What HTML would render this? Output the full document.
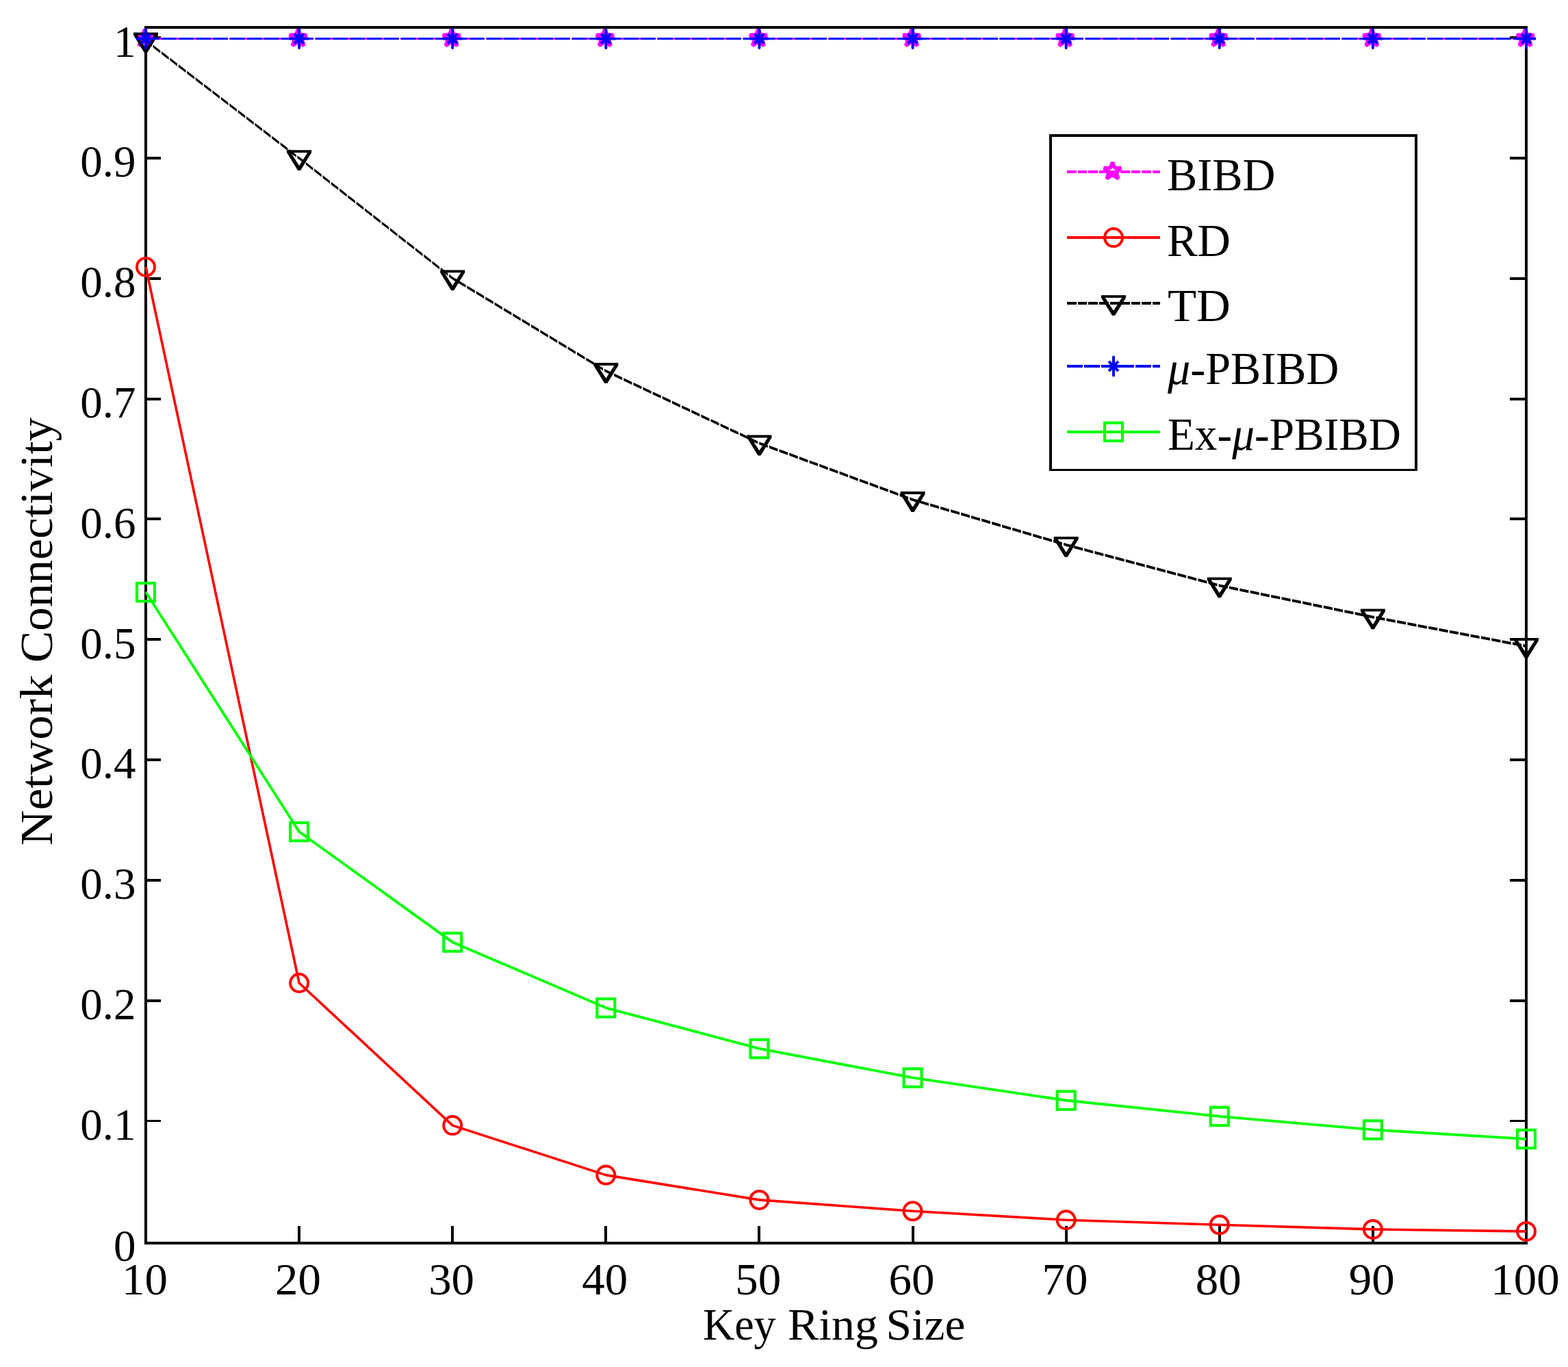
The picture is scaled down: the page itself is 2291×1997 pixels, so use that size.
<!DOCTYPE html><html><head><meta charset="utf-8"><title>Network Connectivity vs Key Ring Size</title>
<style>html,body{margin:0;padding:0;background:#fff;overflow:hidden}svg{display:block}text{font-family:'Liberation Serif', 'DejaVu Serif', serif;fill:#000}</style></head><body>
<svg width="2291" height="1997" viewBox="0 0 2291 1997">
<rect width="2291" height="1997" fill="#fff"/>
<path d="M213,1637.48H235M2230,1637.48H2206M213,1461.66H235M2230,1461.66H2206M213,1285.84H235M2230,1285.84H2206M213,1110.02H235M2230,1110.02H2206M213,934.2H235M2230,934.2H2206M213,758.38H235M2230,758.38H2206M213,582.56H235M2230,582.56H2206M213,406.74H235M2230,406.74H2206M213,230.92H235M2230,230.92H2206M213,55.1H235M2230,55.1H2206M213,1816V1790.5M213,39.9V65.4M437.11,1816V1790.5M437.11,39.9V65.4M661.22,1816V1790.5M661.22,39.9V65.4M885.33,1816V1790.5M885.33,39.9V65.4M1109.44,1816V1790.5M1109.44,39.9V65.4M1333.56,1816V1790.5M1333.56,39.9V65.4M1557.67,1816V1790.5M1557.67,39.9V65.4M1781.78,1816V1790.5M1781.78,39.9V65.4M2005.89,1816V1790.5M2005.89,39.9V65.4M2230,1816V1790.5M2230,39.9V65.4" stroke="#000" stroke-width="3.9" fill="none" shape-rendering="crispEdges"/>
<rect x="213" y="39.9" width="2017" height="1776.1" fill="none" stroke="#000" stroke-width="3.9" shape-rendering="crispEdges"/>
<path d="M213,56.5L437.11,56.5L661.22,56.5L885.33,56.5L1109.44,56.5L1333.56,56.5L1557.67,56.5L1781.78,56.5L2005.89,56.5L2230,56.5" stroke="#ff00ff" stroke-width="3.3" fill="none" shape-rendering="crispEdges" stroke-dasharray="13.33 2.3" stroke-dashoffset="3.27"/>
<path d="M211.5,42.9L214.71,50.78L223.96,51.15L216.7,56.89L219.91,66.77L211.5,60.66L203.09,66.77L206.3,56.89L199.04,51.15L208.29,50.78Z" fill="none" stroke="#ff00ff" stroke-width="5.4" stroke-linejoin="bevel"/>
<path d="M435.61,42.9L438.82,50.78L448.07,51.15L440.81,56.89L444.02,66.77L435.61,60.66L427.21,66.77L430.42,56.89L423.15,51.15L432.4,50.78Z" fill="none" stroke="#ff00ff" stroke-width="5.4" stroke-linejoin="bevel"/>
<path d="M659.72,42.9L662.93,50.78L672.18,51.15L664.92,56.89L668.13,66.77L659.72,60.66L651.32,66.77L654.53,56.89L647.26,51.15L656.51,50.78Z" fill="none" stroke="#ff00ff" stroke-width="5.4" stroke-linejoin="bevel"/>
<path d="M883.83,42.9L887.04,50.78L896.29,51.15L889.03,56.89L892.24,66.77L883.83,60.66L875.43,66.77L878.64,56.89L871.37,51.15L880.62,50.78Z" fill="none" stroke="#ff00ff" stroke-width="5.4" stroke-linejoin="bevel"/>
<path d="M1107.94,42.9L1111.16,50.78L1120.4,51.15L1113.14,56.89L1116.35,66.77L1107.94,60.66L1099.54,66.77L1102.75,56.89L1095.49,51.15L1104.73,50.78Z" fill="none" stroke="#ff00ff" stroke-width="5.4" stroke-linejoin="bevel"/>
<path d="M1332.06,42.9L1335.27,50.78L1344.51,51.15L1337.25,56.89L1340.46,66.77L1332.06,60.66L1323.65,66.77L1326.86,56.89L1319.6,51.15L1328.84,50.78Z" fill="none" stroke="#ff00ff" stroke-width="5.4" stroke-linejoin="bevel"/>
<path d="M1556.17,42.9L1559.38,50.78L1568.63,51.15L1561.36,56.89L1564.57,66.77L1556.17,60.66L1547.76,66.77L1550.97,56.89L1543.71,51.15L1552.96,50.78Z" fill="none" stroke="#ff00ff" stroke-width="5.4" stroke-linejoin="bevel"/>
<path d="M1780.28,42.9L1783.49,50.78L1792.74,51.15L1785.47,56.89L1788.68,66.77L1780.28,60.66L1771.87,66.77L1775.08,56.89L1767.82,51.15L1777.07,50.78Z" fill="none" stroke="#ff00ff" stroke-width="5.4" stroke-linejoin="bevel"/>
<path d="M2004.39,42.9L2007.6,50.78L2016.85,51.15L2009.58,56.89L2012.79,66.77L2004.39,60.66L1995.98,66.77L1999.19,56.89L1991.93,51.15L2001.18,50.78Z" fill="none" stroke="#ff00ff" stroke-width="5.4" stroke-linejoin="bevel"/>
<path d="M2228.5,42.9L2231.71,50.78L2240.96,51.15L2233.7,56.89L2236.91,66.77L2228.5,60.66L2220.09,66.77L2223.3,56.89L2216.04,51.15L2225.29,50.78Z" fill="none" stroke="#ff00ff" stroke-width="5.4" stroke-linejoin="bevel"/>
<path d="M213,390L437.11,1436L661.22,1644.1L885.33,1716.6L1109.44,1752.9L1333.56,1769.3L1557.67,1782.2L1781.78,1789.3L2005.89,1795.9L2230,1798.9" stroke="#ff0000" stroke-width="3.6" fill="none" stroke-linejoin="round"/>
<circle cx="213" cy="390" r="13" fill="none" stroke="#ff0000" stroke-width="4"/>
<circle cx="437.11" cy="1436" r="13" fill="none" stroke="#ff0000" stroke-width="4"/>
<circle cx="661.22" cy="1644.1" r="13" fill="none" stroke="#ff0000" stroke-width="4"/>
<circle cx="885.33" cy="1716.6" r="13" fill="none" stroke="#ff0000" stroke-width="4"/>
<circle cx="1109.44" cy="1752.9" r="13" fill="none" stroke="#ff0000" stroke-width="4"/>
<circle cx="1333.56" cy="1769.3" r="13" fill="none" stroke="#ff0000" stroke-width="4"/>
<circle cx="1557.67" cy="1782.2" r="13" fill="none" stroke="#ff0000" stroke-width="4"/>
<circle cx="1781.78" cy="1789.3" r="13" fill="none" stroke="#ff0000" stroke-width="4"/>
<circle cx="2005.89" cy="1795.9" r="13" fill="none" stroke="#ff0000" stroke-width="4"/>
<circle cx="2230" cy="1798.9" r="13" fill="none" stroke="#ff0000" stroke-width="4"/>
<path d="M213,57.4L221.78,64.13L221.78,68.13L213,61.4ZM223.61,65.53L234.19,73.63L234.19,77.63L223.61,69.53ZM236.01,75.03L246.6,83.14L246.6,87.14L236.01,79.03ZM248.42,84.54L259,92.65L259,96.65L248.42,88.54ZM260.83,94.04L271.41,102.15L271.41,106.15L260.83,98.04ZM273.24,103.55L283.82,111.66L283.82,115.66L273.24,107.55ZM285.65,113.06L296.23,121.16L296.23,125.16L285.65,117.06ZM298.05,122.56L308.64,130.67L308.64,134.67L298.05,126.56ZM310.46,132.07L321.04,140.18L321.04,144.18L310.46,136.07ZM322.87,141.58L333.45,149.68L333.45,153.68L322.87,145.58ZM335.28,151.08L345.86,159.19L345.86,163.19L335.28,155.08ZM347.69,160.59L358.27,168.7L358.27,172.7L347.69,164.59ZM360.09,170.09L370.68,178.2L370.68,182.2L360.09,174.09ZM372.5,179.6L383.08,187.71L383.08,191.71L372.5,183.6ZM384.91,189.11L395.49,197.21L395.49,201.21L384.91,193.11ZM397.32,198.61L407.9,206.72L407.9,210.72L397.32,202.61ZM409.73,208.12L420.31,216.23L420.31,220.23L409.73,212.12ZM422.13,217.63L432.72,225.73L432.72,229.73L422.13,221.63ZM434.54,227.13L437.11,229.1L437.11,233.1L434.54,231.13ZM437.11,229.1L445.06,235.32L445.06,239.32L437.11,233.1ZM446.87,236.74L457.37,244.95L457.37,248.95L446.87,240.74ZM459.19,246.37L469.69,254.58L469.69,258.58L459.19,250.37ZM471.5,256L482,264.21L482,268.21L471.5,260ZM483.81,265.63L494.31,273.84L494.31,277.84L483.81,269.63ZM496.12,275.26L506.62,283.47L506.62,287.47L496.12,279.26ZM508.43,284.89L518.93,293.1L518.93,297.1L508.43,288.89ZM520.75,294.52L531.25,302.73L531.25,306.73L520.75,298.52ZM533.06,304.15L543.56,312.36L543.56,316.36L533.06,308.15ZM545.37,313.78L555.87,321.99L555.87,325.99L545.37,317.78ZM557.68,323.41L568.18,331.62L568.18,335.62L557.68,327.41ZM569.99,333.04L580.49,341.25L580.49,345.25L569.99,337.04ZM582.31,342.67L592.81,350.88L592.81,354.88L582.31,346.67ZM594.62,352.3L605.12,360.51L605.12,364.51L594.62,356.3ZM606.93,361.93L617.43,370.14L617.43,374.14L606.93,365.93ZM619.24,371.56L629.74,379.78L629.74,383.78L619.24,375.56ZM631.55,381.19L642.05,389.41L642.05,393.41L631.55,385.19ZM643.87,390.82L654.36,399.04L654.36,403.04L643.87,394.82ZM656.18,400.45L661.22,404.4L661.22,408.4L656.18,404.45ZM661.22,404.4L667.15,407.98L667.15,411.98L661.22,408.4ZM669.12,409.18L680.52,416.08L680.52,420.08L669.12,413.18ZM682.49,417.27L693.89,424.17L693.89,428.17L682.49,421.27ZM695.86,425.36L707.27,432.26L707.27,436.26L695.86,429.36ZM709.24,433.45L720.64,440.35L720.64,444.35L709.24,437.45ZM722.61,441.54L734.01,448.44L734.01,452.44L722.61,445.54ZM735.98,449.63L747.39,456.54L747.39,460.54L735.98,453.63ZM749.36,457.73L760.76,464.63L760.76,468.63L749.36,461.73ZM762.73,465.82L774.14,472.72L774.14,476.72L762.73,469.82ZM776.1,473.91L787.51,480.81L787.51,484.81L776.1,477.91ZM789.48,482L800.88,488.9L800.88,492.9L789.48,486ZM802.85,490.09L814.26,496.99L814.26,500.99L802.85,494.09ZM816.22,498.19L827.63,505.09L827.63,509.09L816.22,502.19ZM829.6,506.28L841,513.18L841,517.18L829.6,510.28ZM842.97,514.37L854.38,521.27L854.38,525.27L842.97,518.37ZM856.35,522.46L867.75,529.36L867.75,533.36L856.35,526.46ZM869.72,530.55L881.12,537.45L881.12,541.45L869.72,534.55ZM883.09,538.64L885.33,540L885.33,544L883.09,542.64ZM885.33,540L895.02,544.56L895.02,548.56L885.33,544ZM897.11,545.54L909.17,551.22L909.17,555.22L897.11,549.54ZM911.25,552.2L923.31,557.88L923.31,561.88L911.25,556.2ZM925.39,558.86L937.45,564.53L937.45,568.53L925.39,562.86ZM939.53,565.51L951.59,571.19L951.59,575.19L939.53,569.51ZM953.68,572.17L965.74,577.85L965.74,581.85L953.68,576.17ZM967.82,578.83L979.88,584.51L979.88,588.51L967.82,582.83ZM981.96,585.49L994.02,591.16L994.02,595.16L981.96,589.49ZM996.1,592.14L1008.16,597.82L1008.16,601.82L996.1,596.14ZM1010.24,598.8L1022.31,604.48L1022.31,608.48L1010.24,602.8ZM1024.39,605.46L1036.45,611.14L1036.45,615.14L1024.39,609.46ZM1038.53,612.12L1050.59,617.79L1050.59,621.79L1038.53,616.12ZM1052.67,618.77L1064.73,624.45L1064.73,628.45L1052.67,622.77ZM1066.81,625.43L1078.87,631.11L1078.87,635.11L1066.81,629.43ZM1080.96,632.09L1093.02,637.77L1093.02,641.77L1080.96,636.09ZM1095.1,638.75L1107.16,644.42L1107.16,648.42L1095.1,642.75ZM1109.24,645.4L1109.44,645.5L1109.44,649.5L1109.24,649.4ZM1109.44,645.5L1121.74,650.03L1121.74,654.03L1109.44,649.5ZM1123.9,650.82L1136.41,655.43L1136.41,659.43L1123.9,654.82ZM1138.57,656.22L1151.08,660.83L1151.08,664.83L1138.57,660.22ZM1153.24,661.62L1165.75,666.23L1165.75,670.23L1153.24,665.62ZM1167.91,667.02L1180.42,671.63L1180.42,675.63L1167.91,671.02ZM1182.58,672.42L1195.09,677.03L1195.09,681.03L1182.58,676.42ZM1197.25,677.82L1209.75,682.43L1209.75,686.43L1197.25,681.82ZM1211.91,683.22L1224.42,687.83L1224.42,691.83L1211.91,687.22ZM1226.58,688.62L1239.09,693.23L1239.09,697.23L1226.58,692.62ZM1241.25,694.02L1253.76,698.63L1253.76,702.63L1241.25,698.02ZM1255.92,699.42L1268.43,704.03L1268.43,708.03L1255.92,703.42ZM1270.59,704.82L1283.1,709.43L1283.1,713.43L1270.59,708.82ZM1285.26,710.22L1297.77,714.83L1297.77,718.83L1285.26,714.22ZM1299.93,715.62L1312.44,720.23L1312.44,724.23L1299.93,719.62ZM1314.59,721.02L1327.1,725.63L1327.1,729.63L1314.59,725.02ZM1329.26,726.42L1333.56,728L1333.56,732L1329.26,730.42ZM1333.56,728L1341.96,730.47L1341.96,734.47L1333.56,732ZM1344.16,731.12L1356.95,734.88L1356.95,738.88L1344.16,735.12ZM1359.16,735.53L1371.95,739.29L1371.95,743.29L1359.16,739.53ZM1374.16,739.94L1386.94,743.7L1386.94,747.7L1374.16,743.94ZM1389.15,744.35L1401.94,748.11L1401.94,752.11L1389.15,748.35ZM1404.15,748.76L1416.94,752.52L1416.94,756.52L1404.15,752.76ZM1419.14,753.17L1431.93,756.93L1431.93,760.93L1419.14,757.17ZM1434.14,757.58L1446.93,761.34L1446.93,765.34L1434.14,761.58ZM1449.14,761.99L1461.93,765.75L1461.93,769.75L1449.14,765.99ZM1464.13,766.4L1476.92,770.16L1476.92,774.16L1464.13,770.4ZM1479.13,770.81L1491.92,774.57L1491.92,778.57L1479.13,774.81ZM1494.12,775.22L1506.91,778.98L1506.91,782.98L1494.12,779.22ZM1509.12,779.63L1521.91,783.39L1521.91,787.39L1509.12,783.63ZM1524.12,784.03L1536.91,787.8L1536.91,791.8L1524.12,788.03ZM1539.11,788.44L1551.9,792.2L1551.9,796.2L1539.11,792.44ZM1554.11,792.85L1557.67,793.9L1557.67,797.9L1554.11,796.85ZM1557.67,793.9L1566.97,796.37L1566.97,800.37L1557.67,797.9ZM1569.19,796.96L1582.07,800.38L1582.07,804.38L1569.19,800.96ZM1584.3,800.97L1597.18,804.39L1597.18,808.39L1584.3,804.97ZM1599.41,804.98L1612.29,808.4L1612.29,812.4L1599.41,808.98ZM1614.51,808.99L1627.4,812.41L1627.4,816.41L1614.51,812.99ZM1629.62,813L1642.5,816.42L1642.5,820.42L1629.62,817ZM1644.73,817.01L1657.61,820.43L1657.61,824.43L1644.73,821.01ZM1659.84,821.03L1672.72,824.45L1672.72,828.45L1659.84,825.03ZM1674.94,825.04L1687.83,828.46L1687.83,832.46L1674.94,829.04ZM1690.05,829.05L1702.94,832.47L1702.94,836.47L1690.05,833.05ZM1705.16,833.06L1718.04,836.48L1718.04,840.48L1705.16,837.06ZM1720.27,837.07L1733.15,840.49L1733.15,844.49L1720.27,841.07ZM1735.37,841.08L1748.26,844.5L1748.26,848.5L1735.37,845.08ZM1750.48,845.09L1763.37,848.51L1763.37,852.51L1750.48,849.09ZM1765.59,849.1L1778.47,852.52L1778.47,856.52L1765.59,853.1ZM1780.7,853.11L1781.78,853.4L1781.78,857.4L1780.7,857.11ZM1781.78,853.4L1793.74,855.86L1793.74,859.86L1781.78,857.4ZM1795.99,856.32L1809.05,859L1809.05,863L1795.99,860.32ZM1811.31,859.46L1824.36,862.14L1824.36,866.14L1811.31,863.46ZM1826.62,862.6L1839.68,865.28L1839.68,869.28L1826.62,866.6ZM1841.93,865.75L1854.99,868.43L1854.99,872.43L1841.93,869.75ZM1857.24,868.89L1870.3,871.57L1870.3,875.57L1857.24,872.89ZM1872.55,872.03L1885.61,874.71L1885.61,878.71L1872.55,876.03ZM1887.87,875.18L1900.92,877.86L1900.92,881.86L1887.87,879.18ZM1903.18,878.32L1916.23,881L1916.23,885L1903.18,882.32ZM1918.49,881.46L1931.55,884.14L1931.55,888.14L1918.49,885.46ZM1933.8,884.6L1946.86,887.28L1946.86,891.28L1933.8,888.6ZM1949.11,887.75L1962.17,890.43L1962.17,894.43L1949.11,891.75ZM1964.42,890.89L1977.48,893.57L1977.48,897.57L1964.42,894.89ZM1979.74,894.03L1992.79,896.71L1992.79,900.71L1979.74,898.03ZM1995.05,897.17L2005.89,899.4L2005.89,903.4L1995.05,901.17ZM2005.89,899.4L2008.11,899.82L2008.11,903.82L2005.89,903.4ZM2010.37,900.25L2023.47,902.73L2023.47,906.73L2010.37,904.25ZM2025.73,903.16L2038.83,905.65L2038.83,909.65L2025.73,907.16ZM2041.09,906.07L2054.18,908.56L2054.18,912.56L2041.09,910.07ZM2056.44,908.99L2069.54,911.47L2069.54,915.47L2056.44,912.99ZM2071.8,911.9L2084.9,914.38L2084.9,918.38L2071.8,915.9ZM2087.16,914.81L2100.26,917.3L2100.26,921.3L2087.16,918.81ZM2102.52,917.72L2115.61,920.21L2115.61,924.21L2102.52,921.72ZM2117.87,920.64L2130.97,923.12L2130.97,927.12L2117.87,924.64ZM2133.23,923.55L2146.33,926.03L2146.33,930.03L2133.23,927.55ZM2148.59,926.46L2161.69,928.94L2161.69,932.94L2148.59,930.46ZM2163.95,929.37L2177.04,931.86L2177.04,935.86L2163.95,933.37ZM2179.3,932.29L2192.4,934.77L2192.4,938.77L2179.3,936.29ZM2194.66,935.2L2207.76,937.68L2207.76,941.68L2194.66,939.2ZM2210.02,938.11L2223.11,940.59L2223.11,944.59L2210.02,942.11ZM2225.37,941.02L2230,941.9L2230,945.9L2225.37,945.02Z" fill="#000"/>
<path d="M195,47.5L231,47.5L231,51.33L215,77.3L211,77.3L195,51.33ZM200.85,51.33L225.15,51.33L213,70.25Z" fill="#000" fill-rule="evenodd"/>
<path d="M419.11,219.2L455.11,219.2L455.11,223.03L439.11,249L435.11,249L419.11,223.03ZM424.96,223.03L449.26,223.03L437.11,241.95Z" fill="#000" fill-rule="evenodd"/>
<path d="M643.22,394.5L679.22,394.5L679.22,398.33L663.22,424.3L659.22,424.3L643.22,398.33ZM649.07,398.33L673.37,398.33L661.22,417.25Z" fill="#000" fill-rule="evenodd"/>
<path d="M867.33,530.1L903.33,530.1L903.33,533.93L887.33,559.9L883.33,559.9L867.33,533.93ZM873.18,533.93L897.48,533.93L885.33,552.85Z" fill="#000" fill-rule="evenodd"/>
<path d="M1091.44,635.6L1127.44,635.6L1127.44,639.43L1111.44,665.4L1107.44,665.4L1091.44,639.43ZM1097.29,639.43L1121.59,639.43L1109.44,658.35Z" fill="#000" fill-rule="evenodd"/>
<path d="M1315.56,718.1L1351.56,718.1L1351.56,721.93L1335.56,747.9L1331.56,747.9L1315.56,721.93ZM1321.41,721.93L1345.71,721.93L1333.56,740.85Z" fill="#000" fill-rule="evenodd"/>
<path d="M1539.67,784L1575.67,784L1575.67,787.83L1559.67,813.8L1555.67,813.8L1539.67,787.83ZM1545.52,787.83L1569.82,787.83L1557.67,806.75Z" fill="#000" fill-rule="evenodd"/>
<path d="M1763.78,843.5L1799.78,843.5L1799.78,847.33L1783.78,873.3L1779.78,873.3L1763.78,847.33ZM1769.63,847.33L1793.93,847.33L1781.78,866.25Z" fill="#000" fill-rule="evenodd"/>
<path d="M1987.89,889.5L2023.89,889.5L2023.89,893.33L2007.89,919.3L2003.89,919.3L1987.89,893.33ZM1993.74,893.33L2018.04,893.33L2005.89,912.25Z" fill="#000" fill-rule="evenodd"/>
<path d="M2212,932L2248,932L2248,935.83L2232,961.8L2228,961.8L2212,935.83ZM2217.85,935.83L2242.15,935.83L2230,954.75Z" fill="#000" fill-rule="evenodd"/>
<path d="M213,56.5L437.11,56.5L661.22,56.5L885.33,56.5L1109.44,56.5L1333.56,56.5L1557.67,56.5L1781.78,56.5L2005.89,56.5L2230,56.5" stroke="#0000ff" stroke-width="3.3" fill="none" shape-rendering="crispEdges" stroke-dasharray="22.4 2.6" stroke-dashoffset="2.1"/>
<path d="M213,43.1L213,69.9" stroke="#0000ff" stroke-width="4" stroke-linecap="round" fill="none"/><path d="M199,56.5L227,56.5M206,49.5L220,63.5M206,63.5L220,49.5" stroke="#0000ff" stroke-width="4" fill="none"/>
<path d="M437.11,43.1L437.11,69.9" stroke="#0000ff" stroke-width="4" stroke-linecap="round" fill="none"/><path d="M423.11,56.5L451.11,56.5M430.11,49.5L444.11,63.5M430.11,63.5L444.11,49.5" stroke="#0000ff" stroke-width="4" fill="none"/>
<path d="M661.22,43.1L661.22,69.9" stroke="#0000ff" stroke-width="4" stroke-linecap="round" fill="none"/><path d="M647.22,56.5L675.22,56.5M654.22,49.5L668.22,63.5M654.22,63.5L668.22,49.5" stroke="#0000ff" stroke-width="4" fill="none"/>
<path d="M885.33,43.1L885.33,69.9" stroke="#0000ff" stroke-width="4" stroke-linecap="round" fill="none"/><path d="M871.33,56.5L899.33,56.5M878.33,49.5L892.33,63.5M878.33,63.5L892.33,49.5" stroke="#0000ff" stroke-width="4" fill="none"/>
<path d="M1109.44,43.1L1109.44,69.9" stroke="#0000ff" stroke-width="4" stroke-linecap="round" fill="none"/><path d="M1095.44,56.5L1123.44,56.5M1102.44,49.5L1116.44,63.5M1102.44,63.5L1116.44,49.5" stroke="#0000ff" stroke-width="4" fill="none"/>
<path d="M1333.56,43.1L1333.56,69.9" stroke="#0000ff" stroke-width="4" stroke-linecap="round" fill="none"/><path d="M1319.56,56.5L1347.56,56.5M1326.56,49.5L1340.56,63.5M1326.56,63.5L1340.56,49.5" stroke="#0000ff" stroke-width="4" fill="none"/>
<path d="M1557.67,43.1L1557.67,69.9" stroke="#0000ff" stroke-width="4" stroke-linecap="round" fill="none"/><path d="M1543.67,56.5L1571.67,56.5M1550.67,49.5L1564.67,63.5M1550.67,63.5L1564.67,49.5" stroke="#0000ff" stroke-width="4" fill="none"/>
<path d="M1781.78,43.1L1781.78,69.9" stroke="#0000ff" stroke-width="4" stroke-linecap="round" fill="none"/><path d="M1767.78,56.5L1795.78,56.5M1774.78,49.5L1788.78,63.5M1774.78,63.5L1788.78,49.5" stroke="#0000ff" stroke-width="4" fill="none"/>
<path d="M2005.89,43.1L2005.89,69.9" stroke="#0000ff" stroke-width="4" stroke-linecap="round" fill="none"/><path d="M1991.89,56.5L2019.89,56.5M1998.89,49.5L2012.89,63.5M1998.89,63.5L2012.89,49.5" stroke="#0000ff" stroke-width="4" fill="none"/>
<path d="M2230,43.1L2230,69.9" stroke="#0000ff" stroke-width="4" stroke-linecap="round" fill="none"/><path d="M2216,56.5L2244,56.5M2223,49.5L2237,63.5M2223,63.5L2237,49.5" stroke="#0000ff" stroke-width="4" fill="none"/>
<path d="M213,865L437.11,1215L661.22,1376.4L885.33,1472.3L1109.44,1531.9L1333.56,1574.4L1557.67,1607.5L1781.78,1630.8L2005.89,1650.4L2230,1663.9" stroke="#00ff00" stroke-width="3.8" fill="none" stroke-linejoin="round"/>
<rect x="200" y="851.9" width="26" height="26.4" fill="none" stroke="#00ff00" stroke-width="4.1"/>
<rect x="424.11" y="1201.9" width="26" height="26.4" fill="none" stroke="#00ff00" stroke-width="4.1"/>
<rect x="648.22" y="1363.3" width="26" height="26.4" fill="none" stroke="#00ff00" stroke-width="4.1"/>
<rect x="872.33" y="1459.2" width="26" height="26.4" fill="none" stroke="#00ff00" stroke-width="4.1"/>
<rect x="1096.44" y="1518.8" width="26" height="26.4" fill="none" stroke="#00ff00" stroke-width="4.1"/>
<rect x="1320.56" y="1561.3" width="26" height="26.4" fill="none" stroke="#00ff00" stroke-width="4.1"/>
<rect x="1544.67" y="1594.4" width="26" height="26.4" fill="none" stroke="#00ff00" stroke-width="4.1"/>
<rect x="1768.78" y="1617.7" width="26" height="26.4" fill="none" stroke="#00ff00" stroke-width="4.1"/>
<rect x="1992.89" y="1637.3" width="26" height="26.4" fill="none" stroke="#00ff00" stroke-width="4.1"/>
<rect x="2217" y="1650.8" width="26" height="26.4" fill="none" stroke="#00ff00" stroke-width="4.1"/>
<text x="198.6" y="1841.9" font-size="65" text-anchor="end">0</text>
<text x="198.6" y="1664.88" font-size="65" text-anchor="end">0.1</text>
<text x="198.6" y="1489.06" font-size="65" text-anchor="end">0.2</text>
<text x="198.6" y="1313.24" font-size="65" text-anchor="end">0.3</text>
<text x="198.6" y="1137.42" font-size="65" text-anchor="end">0.4</text>
<text x="198.6" y="961.6" font-size="65" text-anchor="end">0.5</text>
<text x="198.6" y="785.78" font-size="65" text-anchor="end">0.6</text>
<text x="198.6" y="609.96" font-size="65" text-anchor="end">0.7</text>
<text x="198.6" y="434.14" font-size="65" text-anchor="end">0.8</text>
<text x="198.6" y="258.32" font-size="65" text-anchor="end">0.9</text>
<text x="198.6" y="82.5" font-size="65" text-anchor="end">1</text>
<text transform="translate(211.4,1891.1) scale(1.03,1)" font-size="65" text-anchor="middle">10</text>
<text transform="translate(435.51,1891.1) scale(1.03,1)" font-size="65" text-anchor="middle">20</text>
<text transform="translate(659.62,1891.1) scale(1.03,1)" font-size="65" text-anchor="middle">30</text>
<text transform="translate(883.73,1891.1) scale(1.03,1)" font-size="65" text-anchor="middle">40</text>
<text transform="translate(1107.84,1891.1) scale(1.03,1)" font-size="65" text-anchor="middle">50</text>
<text transform="translate(1331.96,1891.1) scale(1.03,1)" font-size="65" text-anchor="middle">60</text>
<text transform="translate(1556.07,1891.1) scale(1.03,1)" font-size="65" text-anchor="middle">70</text>
<text transform="translate(1780.18,1891.1) scale(1.03,1)" font-size="65" text-anchor="middle">80</text>
<text transform="translate(2004.29,1891.1) scale(1.03,1)" font-size="65" text-anchor="middle">90</text>
<text transform="translate(2228.4,1891.1) scale(1.03,1)" font-size="65" text-anchor="middle">100</text>
<text transform="translate(1026.96,1957) scale(0.9704,1)" font-size="66">Key</text>
<text transform="translate(1150.95,1957) scale(1.0272,1)" font-size="66">Ring</text>
<text transform="translate(1294.42,1957) scale(1.0206,1)" font-size="66">Size</text>
<text transform="translate(75.9,1235.13) rotate(-90) scale(1.0647,1)" font-size="67">Network</text>
<text transform="translate(75.9,968) rotate(-90) scale(1.0347,1)" font-size="67">Connectivity</text>
<rect x="1535" y="198.3" width="534" height="488.2" fill="#fff" stroke="#000" stroke-width="3.9" shape-rendering="crispEdges"/>
<path d="M1559,250.8H1695" stroke="#ff00ff" shape-rendering="crispEdges" stroke-width="4.2" stroke-dasharray="13.7 1.93"/>
<path d="M1625.5,237.2L1628.71,245.08L1637.96,245.45L1630.7,251.19L1633.91,261.07L1625.5,254.96L1617.09,261.07L1620.3,251.19L1613.04,245.45L1622.29,245.08Z" fill="none" stroke="#ff00ff" stroke-width="5.4" stroke-linejoin="bevel"/>
<path d="M1559,347.1H1695" stroke="#ff0000" shape-rendering="crispEdges" stroke-width="3.9"/>
<circle cx="1627" cy="347.1" r="13" fill="none" stroke="#ff0000" stroke-width="4"/>
<path d="M1559,443.1H1695" stroke="#000000" shape-rendering="crispEdges" stroke-width="4" stroke-dasharray="13.7 1.93"/>
<path d="M1609,431.2L1645,431.2L1645,435.03L1629,461L1625,461L1609,435.03ZM1614.85,435.03L1639.15,435.03L1627,453.95Z" fill="#000" fill-rule="evenodd"/>
<path d="M1559,535H1695" stroke="#0000ff" shape-rendering="crispEdges" stroke-width="3.8" stroke-dasharray="23 2"/>
<path d="M1627,521.6L1627,548.4" stroke="#0000ff" stroke-width="4" stroke-linecap="round" fill="none"/><path d="M1613,535L1641,535M1620,528L1634,542M1620,542L1634,528" stroke="#0000ff" stroke-width="4" fill="none"/>
<path d="M1559,630.8H1695" stroke="#00ff00" shape-rendering="crispEdges" stroke-width="4.1"/>
<rect x="1614" y="617.7" width="26" height="26.4" fill="none" stroke="#00ff00" stroke-width="4.1"/>
<text transform="translate(1704.9,277.9) scale(0.996,1)" font-size="66.7">BIBD</text>
<text transform="translate(1704.9,374.2) scale(1.0045,1)" font-size="66.7">RD</text>
<text transform="translate(1705.9,468.8) scale(1.034,1)" font-size="66.7">TD</text>
<text transform="translate(1705.9,561.3) scale(0.993,1)" font-size="66.7"><tspan font-style="italic">μ</tspan>-PBIBD</text>
<text transform="translate(1706,657.3) scale(0.9788,1)" font-size="66.7">Ex-<tspan font-style="italic">μ</tspan>-PBIBD</text>
</svg></body></html>
